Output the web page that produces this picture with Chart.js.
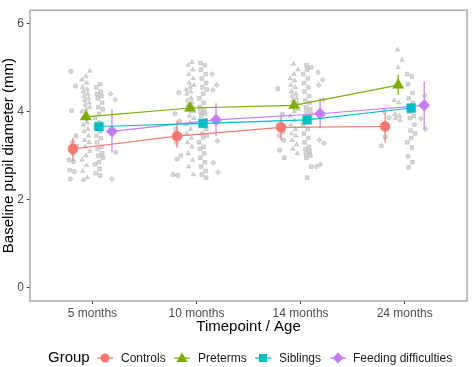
<!DOCTYPE html>
<html>
<head>
<meta charset="utf-8">
<script src="https://cdn.jsdelivr.net/npm/chart.js@4"></script>
<style>
  html,body{margin:0;padding:0;background:#fff;}
  #wrap{position:relative;width:474px;height:367px;font-family:"Liberation Sans",Arial,sans-serif;}
  canvas{position:absolute;left:0;top:0;}
  .lg{position:absolute;top:349px;font-size:12px;color:#1a1a1a;line-height:18px;white-space:nowrap;}
  .lgt{position:absolute;top:347px;font-size:15px;color:#000;line-height:20px;}
  .key{position:absolute;top:350px;}
</style>
</head>
<body>
<div id="wrap">
  <canvas id="c" width="474" height="367"></canvas>
  <div class="lgt" style="left:48px">Group</div>
  <svg class="key" style="left:97px" width="16" height="16"><line x1="0" y1="8" x2="16" y2="8" stroke="#F8766D" stroke-width="1.2"/><circle cx="8" cy="8" r="4.5" fill="#F8766D"/></svg>
  <div class="lg" style="left:121px">Controls</div>
  <svg class="key" style="left:174px" width="16" height="16"><line x1="0" y1="8" x2="16" y2="8" stroke="#7CAE00" stroke-width="1.2"/><polygon points="8,2.5 13.5,12 2.5,12" fill="#7CAE00"/></svg>
  <div class="lg" style="left:198px">Preterms</div>
  <svg class="key" style="left:255px" width="16" height="16"><line x1="0" y1="8" x2="16" y2="8" stroke="#00BFC4" stroke-width="1.2"/><rect x="4" y="4" width="8" height="8" fill="#00BFC4"/></svg>
  <div class="lg" style="left:279px">Siblings</div>
  <svg class="key" style="left:330px" width="16" height="16"><line x1="0" y1="8" x2="16" y2="8" stroke="#C77CFF" stroke-width="1.2"/><polygon points="8,2.5 13.5,8 8,13.5 2.5,8" fill="#C77CFF"/></svg>
  <div class="lg" style="left:353px">Feeding difficulties</div>
</div>
<script>
// ---- Data ----
const timepoints = ['5 months', '10 months', '14 months', '24 months'];
const groups = ['Controls', 'Preterms', 'Siblings', 'Feeding difficulties'];

// group means and error-bar limits per timepoint
const controlsMean = [3.15, 3.44, 3.64, 3.66];
const controlsLow  = [2.87, 3.18, 3.35, 3.30];
const controlsHigh = [3.40, 3.79, 3.90, 3.97];
const pretermsMean = [3.88, 4.08, 4.14, 4.60];
const pretermsLow  = [3.78, 3.97, 4.03, 4.38];
const pretermsHigh = [3.98, 4.19, 4.25, 4.84];
const siblingsMean = [3.66, 3.73, 3.81, 4.08];
const siblingsLow  = [3.57, 3.64, 3.72, 3.96];
const siblingsHigh = [3.75, 3.82, 3.90, 4.20];
const feedingMean  = [3.55, 3.81, 3.95, 4.14];
const feedingLow   = [3.07, 3.44, 3.62, 3.59];
const feedingHigh  = [4.05, 4.19, 4.30, 4.69];

// individual observations (grey jittered points)
const controls5  = [4.91, 4.58, 4.02, 3.45, 3.30, 3.22, 3.05, 2.90, 2.86, 2.67, 2.64, 2.47];
const preterms5  = [4.92, 4.80, 4.72, 4.65, 4.55, 4.50, 4.45, 4.40, 4.35, 4.30, 4.25, 4.20, 4.15, 4.10, 4.05, 4.00, 3.95, 3.85, 3.75, 3.70, 3.60, 3.55, 3.45, 3.35, 3.30, 3.20, 3.10, 3.00, 2.90, 2.78, 2.65, 2.50, 2.45];
const siblings5  = [4.62, 4.55, 4.45, 4.40, 4.35, 4.30, 4.20, 4.10, 4.05, 3.95, 3.85, 3.75, 3.65, 3.55, 3.45, 3.40, 3.30, 3.20, 3.15, 3.05, 3.00, 2.95, 2.85, 2.80, 2.70, 2.60, 2.55];
const feeding5   = [4.40, 4.27, 3.55, 3.08, 2.47];
const controls10 = [4.43, 3.95, 3.78, 3.60, 3.45, 3.30, 3.00, 2.92, 2.57, 2.55];
const preterms10 = [5.12, 5.05, 4.95, 4.85, 4.75, 4.65, 4.60, 4.55, 4.50, 4.45, 4.40, 4.30, 4.25, 4.20, 4.15, 4.10, 4.05, 4.00, 3.90, 3.85, 3.75, 3.70, 3.60, 3.50, 3.40, 3.30, 3.20, 3.05, 2.90, 2.75, 2.57];
const siblings10 = [5.10, 5.05, 4.95, 4.85, 4.75, 4.65, 4.55, 4.50, 4.40, 4.30, 4.20, 4.10, 4.05, 4.00, 3.95, 3.90, 3.80, 3.70, 3.60, 3.50, 3.45, 3.40, 3.30, 3.20, 3.15, 3.05, 2.95, 2.85, 2.75, 2.65, 2.57, 2.50];
const feeding10  = [4.85, 4.60, 4.49, 3.33, 2.84, 2.62];
const controls14 = [4.52, 3.94, 3.70, 3.53, 3.46, 3.35, 3.12, 2.95];
const preterms14 = [5.08, 4.95, 4.85, 4.75, 4.70, 4.60, 4.55, 4.45, 4.40, 4.35, 4.30, 4.25, 4.20, 4.15, 4.05, 4.00, 3.90, 3.80, 3.70, 3.60, 3.50, 3.45, 3.35, 3.25, 3.15, 3.05];
const siblings14 = [5.05, 5.00, 4.95, 4.85, 4.75, 4.65, 4.55, 4.45, 4.35, 4.25, 4.20, 4.10, 4.05, 4.00, 3.95, 3.85, 3.70, 3.60, 3.50, 3.40, 3.30, 3.20, 3.15, 3.10, 3.05, 3.00, 2.95, 2.75, 2.50];
const feeding14  = [4.89, 4.72, 4.60, 4.27, 3.35, 3.28, 2.80, 2.75];
const controls24 = [4.00, 3.86, 3.42, 3.22];
const preterms24 = [5.40, 5.17, 5.00, 4.25, 4.20, 3.94, 3.90, 3.85, 3.80];
const siblings24 = [4.85, 4.80, 4.62, 4.42, 4.30, 4.20, 4.00, 3.90, 3.85, 3.70, 3.57, 3.50, 3.40, 3.30, 3.18, 2.98, 2.85, 2.73];
const feeding24  = [4.36, 3.84, 3.60];

const yTicks = [0, 2, 4, 6];

// ---- Build datasets ----
const colors = ['#F8766D', '#7CAE00', '#00BFC4', '#C77CFF'];
const shapes = ['circle', 'triangle', 'rect', 'rectRot'];
const radii  = [5, 6.4, 6.2, 5.8];
const means = [controlsMean, pretermsMean, siblingsMean, feedingMean];
const lows  = [controlsLow, pretermsLow, siblingsLow, feedingLow];
const highs = [controlsHigh, pretermsHigh, siblingsHigh, feedingHigh];
const raw = [
  [controls5, controls10, controls14, controls24],
  [preterms5, preterms10, preterms14, preterms24],
  [siblings5, siblings10, siblings14, siblings24],
  [feeding5, feeding10, feeding14, feeding24]
];
const dodge = g => (g - 1.5) * 0.125;
const jit = i => ((((i * 7) + 3) % 13) / 12 - 0.5) * 0.075;

const datasets = [];
groups.forEach((name, g) => {
  datasets.push({
    type: 'scatter', label: name, order: 0, showLine: true,
    data: means[g].map((v, t) => ({x: t + 1 + dodge(g), y: v})),
    borderColor: colors[g], backgroundColor: colors[g], borderWidth: 1.2,
    pointStyle: shapes[g], pointRadius: radii[g], pointBorderWidth: 0.5,
    pointBorderColor: colors[g], pointBackgroundColor: colors[g]
  });
});
groups.forEach((name, g) => {
  const d = [];
  means[g].forEach((v, t) => {
    const x = t + 1 + dodge(g);
    d.push({x, y: lows[g][t]}, {x, y: highs[g][t]}, {x, y: null});
  });
  datasets.push({
    type: 'scatter', label: name + ' err', order: 1, showLine: true, spanGaps: false,
    data: d, borderColor: colors[g], borderWidth: 1.2, pointRadius: 0
  });
});
groups.forEach((name, g) => {
  const d = [];
  let k = 0;
  raw[g].forEach((vals, t) => {
    vals.forEach(v => { d.push({x: t + 1 + dodge(g) + jit(k + g * 5), y: v}); k++; });
  });
  datasets.push({
    type: 'scatter', label: name + ' obs', order: 2, data: d,
    pointStyle: shapes[g], pointRadius: g === 0 ? 2.2 : 2.6,
    backgroundColor: 'rgba(165,165,165,0.45)', borderColor: 'rgba(130,130,130,0.45)', borderWidth: 0.6
  });
});

const frame = {
  id: 'frame',
  afterDraw(chart) {
    const {ctx, chartArea: a} = chart;
    ctx.save();
    ctx.strokeStyle = '#b0b0b0';
    ctx.lineWidth = 1.6;
    ctx.strokeRect(a.left, a.top, a.right - a.left, a.bottom - a.top);
    ctx.restore();
  }
};

new Chart(document.getElementById('c'), {
  type: 'scatter',
  data: {datasets},
  options: {
    responsive: false, animation: false, events: [],
    layout: {padding: {left: 0, right: 2, top: 1, bottom: 31}},
    plugins: {legend: {display: false}, tooltip: {enabled: false}},
    scales: {
      x: {
        type: 'linear', min: 0.4, max: 4.6,
        afterBuildTicks: s => { s.ticks = timepoints.map((_, i) => ({value: i + 1})); },
        afterFit: s => { s.height = 35; },
        ticks: {callback: v => timepoints[v - 1], color: '#4d4d4d', font: {family: 'Liberation Sans', size: 12}, padding: 2, maxRotation: 0},
        grid: {drawOnChartArea: false, drawTicks: true, tickLength: 3, color: '#333', lineWidth: 1},
        border: {display: false},
        title: {display: true, text: 'Timepoint / Age', color: '#000', font: {family: 'Liberation Sans', size: 15}, padding: {top: 0, bottom: 0}}
      },
      y: {
        type: 'linear', min: -0.3, max: 6.3,
        afterBuildTicks: s => { s.ticks = yTicks.map(v => ({value: v})); },
        afterFit: s => { s.width = 30; },
        ticks: {color: '#4d4d4d', font: {family: 'Liberation Sans', size: 12}, padding: 3},
        grid: {drawOnChartArea: false, drawTicks: true, tickLength: 3, color: '#333', lineWidth: 1},
        border: {display: false},
        title: {display: true, text: 'Baseline pupil diameter (mm)', color: '#000', font: {family: 'Liberation Sans', size: 15}, padding: {top: 0, bottom: 0}}
      }
    }
  },
  plugins: [frame]
});
</script>
</body>
</html>
